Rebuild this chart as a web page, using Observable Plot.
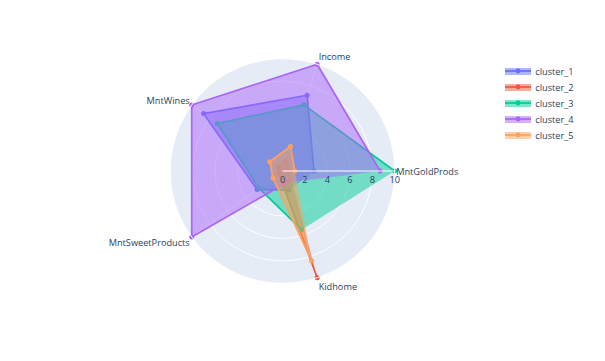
<!DOCTYPE html>
<html>
<head>
<meta charset="utf-8">
<script src="https://cdn.jsdelivr.net/npm/d3@7"></script>
<script src="https://cdn.jsdelivr.net/npm/@observablehq/plot@0.6"></script>
<style>
  html, body { margin: 0; padding: 0; background: #fff; }
  #wrap { position: relative; width: 605px; height: 361px; font-family: "Open Sans", sans-serif; }
  #legend { position: absolute; left: 505px; top: 63.5px; font-size: 9.2px; color: #2a3f5f; }
  .item { display: flex; align-items: center; height: 16.1px; }
  .item svg { margin-right: 4.3px; }
</style>
</head>
<body>
<div id="wrap"><div id="chart"></div><div id="legend"></div></div>
<script>
// ---- data ----
const axes = ["MntGoldProds", "Income", "MntWines", "MntSweetProducts", "Kidhome"];
const clusters = ["cluster_1", "cluster_2", "cluster_3", "cluster_4", "cluster_5"];
const cluster_1 = [2.8, 7.1, 8.7, 2.8, 1.8];
const cluster_2 = [0.6, 0.9, 0.5, 0.4, 10];
const cluster_3 = [10, 6.2, 7.2, 2.6, 5.5];
const cluster_4 = [8.7, 10, 10, 10, 1.1];
const cluster_5 = [1.1, 2.3, 1.4, 1.05, 8.4];
const radialTicks = [0, 2, 4, 6, 8, 10];
const colors = ["#636efa", "#EF553B", "#00cc96", "#ab63fa", "#FFA15A"];

const seriesValues = [cluster_1, cluster_2, cluster_3, cluster_4, cluster_5];
const rMax = 10;
const FS = 9.2;
const ang = i => i * 2 * Math.PI / axes.length;
const px = (r, a) => r * Math.cos(a);
const py = (r, a) => r * Math.sin(a);

const rows = clusters.flatMap((c, ci) =>
  seriesValues[ci].map((v, i) => ({cluster: c, ci, axis: axes[i], i, v})));

// circular grid geometry
const circle = r => d3.range(0, 361, 2).map(t => ({r, a: t * Math.PI / 180}));
const bgPts = circle(rMax);
const gridPts = [2, 4, 6, 8].flatMap(circle);
const spokes = axes.map((a, i) => ({i}));

const X = d => px(d.v, ang(d.i));
const Y = d => py(d.v, ang(d.i));

const marks = [
  Plot.line(bgPts, {x: d => px(d.r, d.a), y: d => py(d.r, d.a), fill: "#E5ECF6", stroke: null, curve: "linear-closed"}),
  Plot.line(gridPts, {x: d => px(d.r, d.a), y: d => py(d.r, d.a), z: "r", stroke: "white", strokeWidth: 1, curve: "linear-closed"}),
  Plot.link(spokes, {x1: 0, y1: 0, x2: d => px(rMax, ang(d.i)), y2: d => py(rMax, ang(d.i)), stroke: "white", strokeWidth: 1})
];

clusters.forEach((c, ci) => {
  const data = rows.filter(d => d.ci === ci);
  marks.push(
    Plot.line(data, {x: X, y: Y, fill: colors[ci], fillOpacity: 0.5, stroke: null, curve: "linear-closed"}),
    Plot.line(data, {x: X, y: Y, stroke: colors[ci], strokeWidth: 1.7, curve: "linear", strokeLinejoin: "miter", strokeLinecap: "butt"}),
    Plot.dot(data, {x: X, y: Y, r: 2.5, fill: colors[ci], stroke: null})
  );
});

// axes above traces
marks.push(
  Plot.line(bgPts, {x: d => px(d.r, d.a), y: d => py(d.r, d.a), stroke: "white", strokeWidth: 1, curve: "linear-closed"}),
  Plot.link([0], {x1: 0, y1: 0, x2: rMax, y2: 0, stroke: "white", strokeWidth: 1}),
  Plot.text(radialTicks, {x: d => d, y: 0, text: d => String(d), dy: 9, fill: "#2a3f5f", fontSize: FS})
);

axes.forEach((name, i) => {
  const a = ang(i), c = Math.cos(a), s = Math.sin(a);
  const anchor = c > 0.1 ? "start" : c < -0.1 ? "end" : "middle";
  marks.push(Plot.text([name], {
    x: px(rMax, a), y: py(rMax, a), text: d => d,
    textAnchor: anchor, dx: c > 0.1 ? 1.5 : c < -0.1 ? -2 : 0, dy: -s * 8.8 + 1.2,
    fill: "#2a3f5f", fontSize: FS
  }));
});

const R = 112.2, cx = 282, cy = 170.5;
const chart = Plot.plot({
  width: 605,
  height: 361,
  marginLeft: cx - R,
  marginRight: 605 - (cx + R),
  marginTop: cy - R,
  marginBottom: 361 - (cy + R),
  x: {domain: [-rMax, rMax], axis: null},
  y: {domain: [-rMax, rMax], axis: null},
  style: {fontFamily: "\"Open Sans\", sans-serif", background: "white", overflow: "visible"},
  marks
});
document.getElementById("chart").appendChild(chart);

// legend
const legend = document.getElementById("legend");
clusters.forEach((c, ci) => {
  const div = document.createElement("div");
  div.className = "item";
  div.innerHTML =
    `<svg width="26" height="12" viewBox="0 0 26 12">
       <rect x="0" y="2" width="26" height="7" fill="${colors[ci]}" fill-opacity="0.5"></rect>
       <line x1="0" x2="26" y1="5" y2="5" stroke="${colors[ci]}" stroke-width="1.7"></line>
       <circle cx="13" cy="5" r="2.4" fill="${colors[ci]}"></circle>
     </svg><span>${c}</span>`;
  legend.appendChild(div);
});
</script>
</body>
</html>
